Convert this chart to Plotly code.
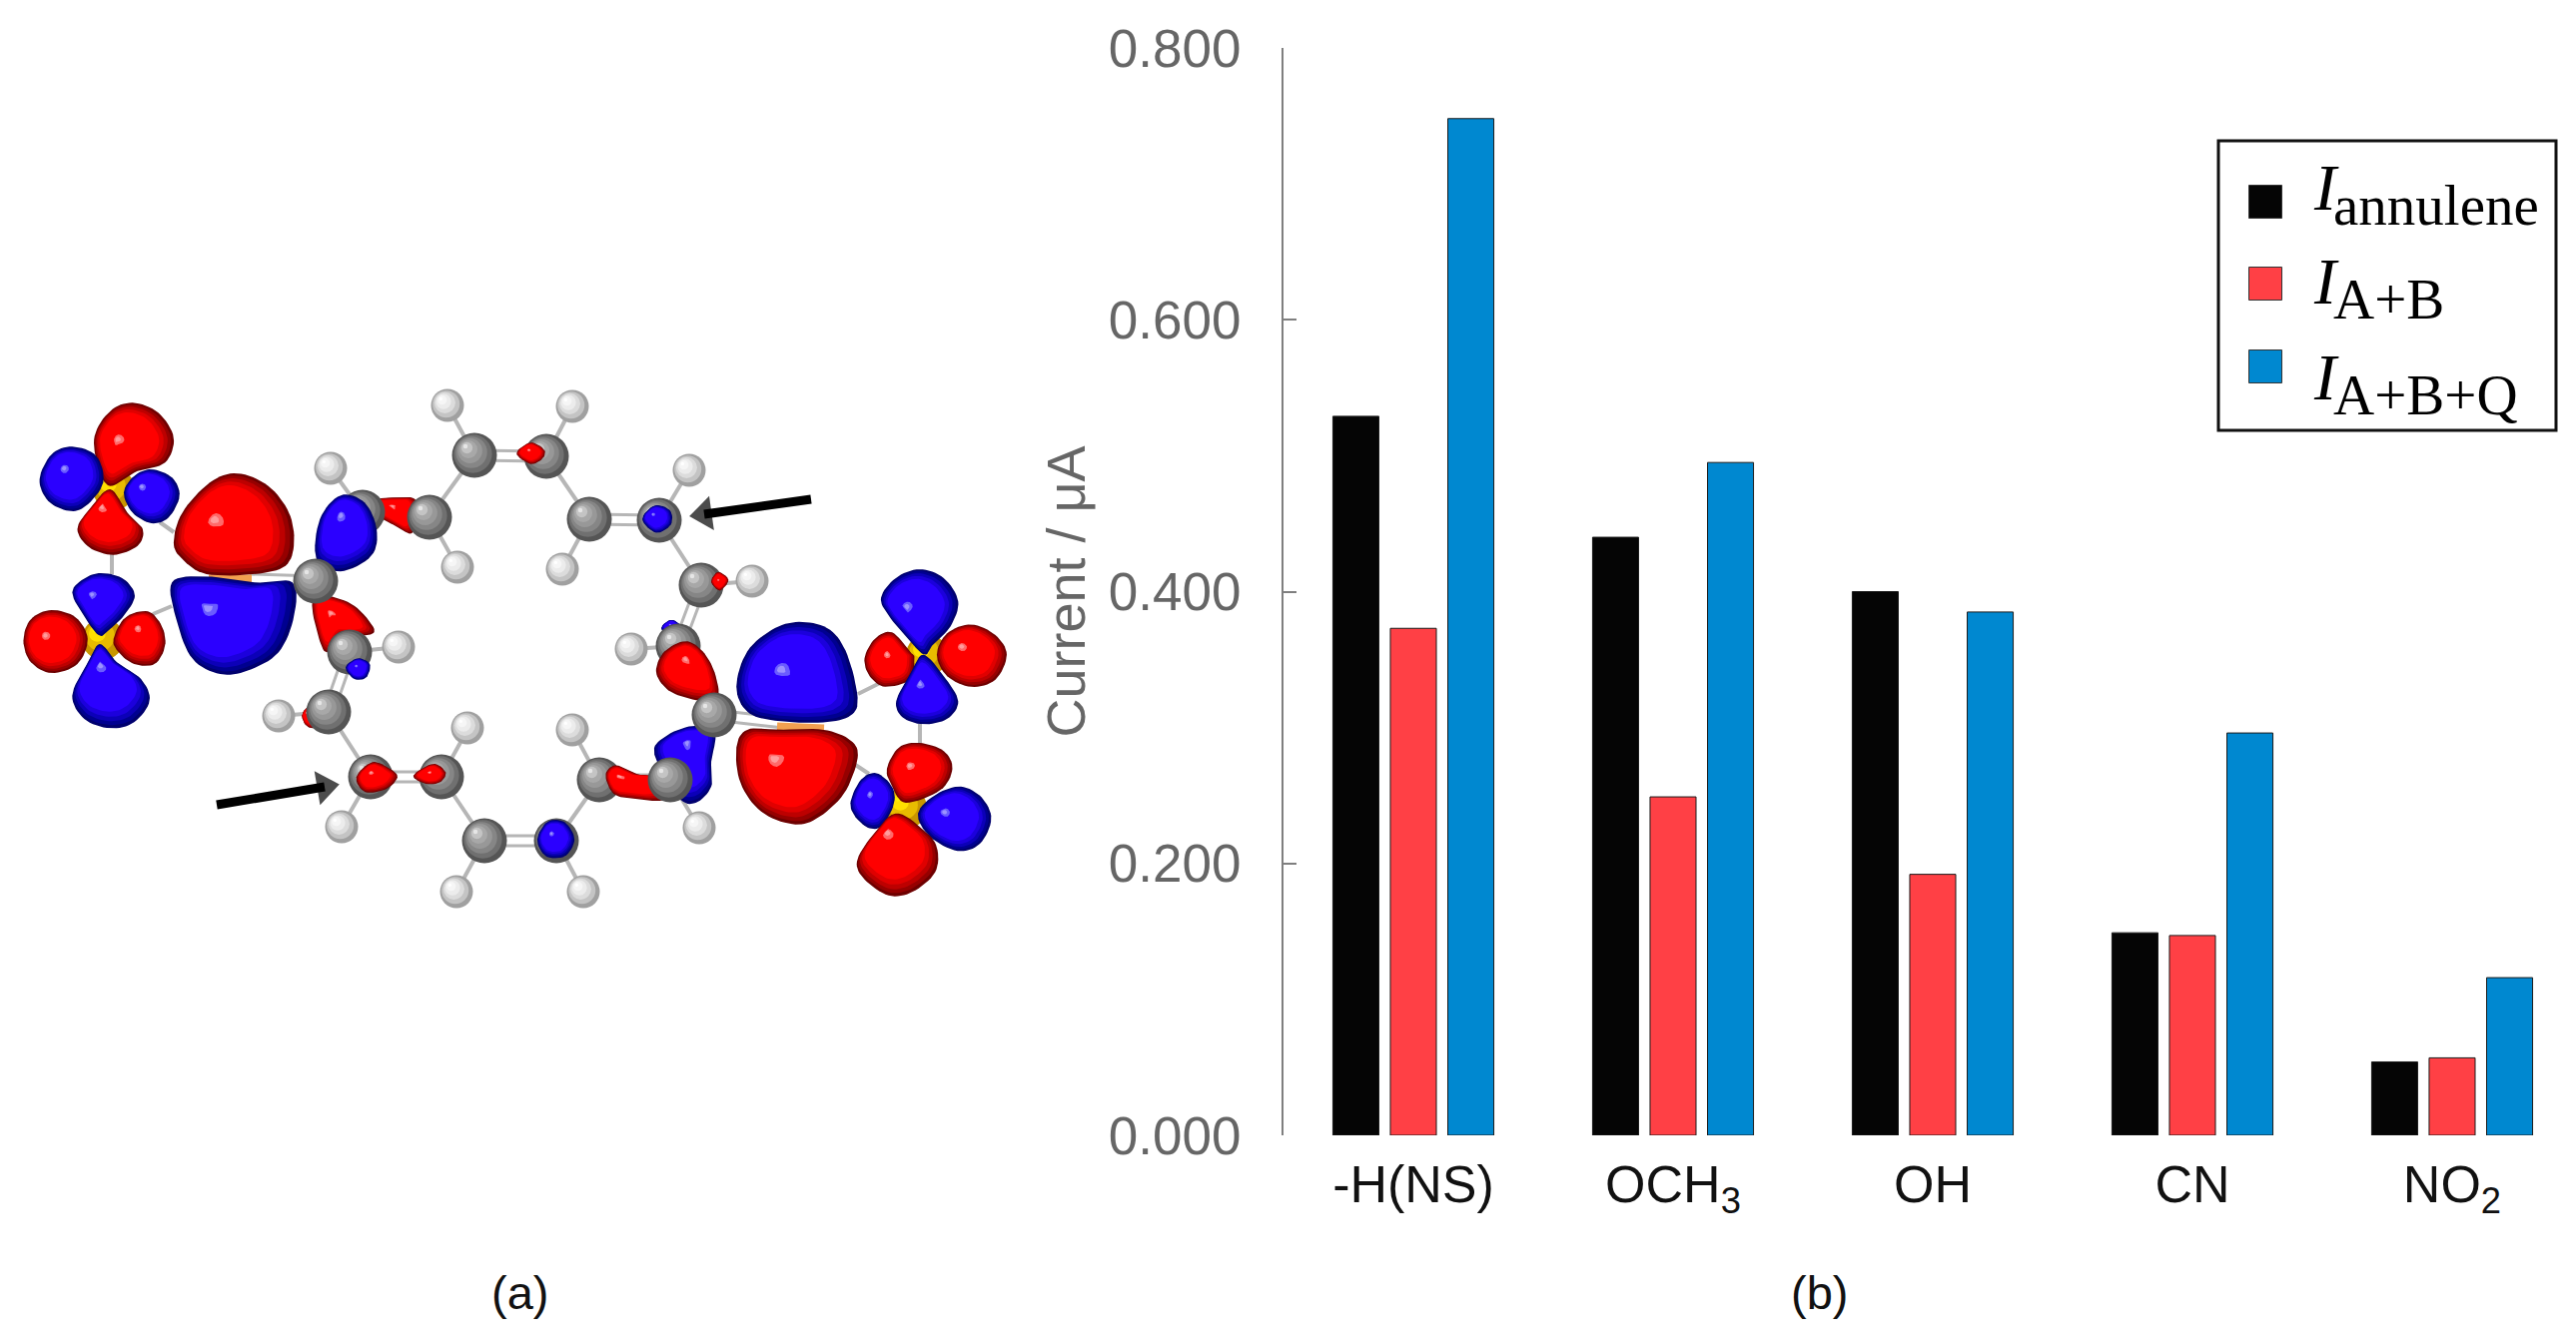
import numpy as np
import plotly.graph_objects as go

# bar chart values
categories = ["-H(NS)", "OCH<sub>3</sub>", "OH", "CN", "NO<sub>2</sub>"]
i_annulene = [0.529, 0.440, 0.400, 0.149, 0.054]
i_ab = [0.373, 0.249, 0.192, 0.147, 0.057]
i_abq = [0.748, 0.495, 0.385, 0.296, 0.116]
y_ticks = [0.0, 0.2, 0.4, 0.6, 0.8]
series_colors = ["#050505", "#ff4045", "#0088d0"]

W, H = 2579, 1344
PAGE = 8  # the browser keeps an 8px body margin, figure starts after it

# panel (a) is a picture of a molecule, traced in page pixels on a hidden axis
carbon_back = [(475, 456), (547, 457), (430, 518), (363, 513), (329, 713), (371, 778), (442, 778),
               (485, 842), (557, 842), (600, 781), (590, 520), (660, 521), (702, 586), (679, 647)]
carbon_front = [(316, 582), (350, 653), (715, 716), (671, 781)]
hydrogen = [(448, 406), (331, 469), (458, 568), (399, 648), (279, 717), (468, 729), (342, 828), (457, 893),
            (584, 893), (573, 407), (690, 471), (563, 570), (753, 582), (632, 650), (573, 731), (700, 829)]
sulfur = [(114, 490), (103, 640), (928, 656), (907, 809)]

single_bonds = [((475, 456), (430, 518)), ((475, 456), (448, 406)), ((547, 457), (573, 407)),
                ((547, 457), (590, 520)), ((430, 518), (458, 568)), ((363, 513), (331, 469)),
                ((363, 513), (316, 582)), ((316, 582), (350, 653)), ((350, 653), (399, 648)),
                ((329, 713), (279, 717)), ((329, 713), (371, 778)), ((371, 778), (342, 828)),
                ((442, 778), (469, 729)), ((442, 778), (485, 842)), ((485, 842), (457, 893)),
                ((557, 842), (584, 893)), ((557, 842), (600, 781)), ((600, 781), (573, 731)),
                ((671, 781), (700, 829)), ((671, 781), (715, 716)), ((715, 716), (679, 647)),
                ((679, 647), (632, 650)), ((702, 586), (753, 582)), ((702, 586), (660, 521)),
                ((660, 521), (690, 471)), ((590, 520), (563, 570)),
                ((112, 555), (112, 575)), ((160, 523), (174, 533)), ((153, 615), (172, 607)),
                ((859, 695), (881, 684)), ((921, 725), (921, 745)), ((852, 763), (870, 775))]
double_bonds = [((350, 653), (329, 713)), ((371, 778), (442, 778)), ((485, 842), (557, 842)),
                ((679, 647), (702, 586)), ((660, 521), (590, 520)), ((475, 456), (547, 457)),
                ((430, 518), (363, 513)), ((316, 582), (250, 580)), ((715, 716), (785, 724)),
                ((600, 781), (671, 781))]
orange_bars = [((209, 580), (252, 580)), ((778, 728), (825, 730))]
arrows = [((217, 806), (325, 788)), ((812, 500), (705, 515))]

# lobes: outline points, then highlight point, in the coordinates of the crops
lobes_z3_back = [
    ("red", [(1075, 395), (1150, 385), (1210, 395), (1200, 490), (1150, 470), (1100, 440)], (1140, 410)),
    ("red", [(878, 1040), (895, 1015), (920, 1030), (915, 1075), (890, 1070)], (890, 1030)),
]
lobes_z3 = [
    ("red", [(505, 520), (530, 430), (610, 340), (690, 312), (780, 350), (840, 430), (855, 520), (830, 590), (740, 615), (600, 615), (530, 570)], (620, 450)),
    ("blue", [(500, 640), (600, 622), (740, 640), (850, 640), (855, 740), (810, 850), (720, 905), (640, 915), (560, 870), (515, 760)], (600, 715)),
    ("red", [(275, 200), (320, 125), (385, 100), (460, 130), (505, 205), (480, 280), (400, 305), (320, 350), (285, 290)], (340, 210)),
    ("red", [(225, 480), (260, 420), (320, 360), (370, 430), (415, 480), (400, 530), (330, 557), (260, 535)], (295, 410)),
    ("blue", [(115, 330), (150, 255), (210, 232), (280, 260), (300, 340), (250, 410), (200, 425), (140, 395)], (185, 295)),
    ("blue", [(360, 370), (390, 320), (440, 300), (500, 325), (522, 380), (490, 445), (440, 462), (385, 430)], (410, 350)),
    ("blue", [(210, 670), (250, 625), (300, 612), (360, 630), (392, 680), (360, 740), (320, 780), (290, 800), (250, 750)], (265, 675)),
    ("red", [(68, 815), (90, 750), (150, 723), (220, 745), (255, 810), (225, 885), (150, 912), (90, 880)], (130, 798)),
    ("red", [(330, 810), (365, 745), (430, 727), (470, 770), (480, 830), (450, 885), (390, 885), (345, 850)], (400, 775)),
    ("blue", [(210, 980), (250, 890), (290, 825), (340, 880), (410, 930), (435, 995), (390, 1060), (320, 1078), (245, 1050)], (290, 885)),
    ("blue", [(920, 570), (930, 450), (990, 378), (1060, 400), (1095, 480), (1080, 560), (990, 607)], (990, 435)),
    ("red", [(908, 700), (950, 680), (1030, 710), (1088, 780), (1060, 800), (990, 800), (950, 850), (925, 800)], (960, 730)),
]
lobes_z3_top = [
    ("blue", [(1005, 895), (1040, 868), (1075, 885), (1065, 925), (1030, 930)], (1035, 890)),
]
lobes_z4_back = [
    ("blue", [(470, 725), (500, 702), (530, 725), (500, 750)], (495, 715)),
]
lobes_z4 = [
    ("blue", [(688, 890), (720, 790), (800, 725), (880, 708), (960, 730), (1010, 800), (1040, 920), (1020, 970), (940, 990), (800, 985), (720, 960)], (815, 840)),
    ("red", [(688, 1060), (720, 1010), (810, 1010), (940, 1010), (1020, 1040), (1040, 1090), (1000, 1190), (920, 1260), (850, 1275), (760, 1240), (700, 1160)], (795, 1090)),
    ("blue", [(1108, 640), (1150, 585), (1220, 560), (1290, 585), (1332, 650), (1310, 720), (1260, 770), (1235, 800), (1190, 760), (1130, 690)], (1180, 665)),
    ("red", [(1060, 810), (1090, 755), (1140, 737), (1190, 790), (1205, 810), (1190, 870), (1120, 890), (1075, 860)], (1125, 798)),
    ("red", [(1270, 800), (1300, 740), (1370, 715), (1440, 745), (1473, 800), (1440, 870), (1370, 890), (1300, 860)], (1340, 775)),
    ("blue", [(1152, 930), (1190, 860), (1230, 800), (1290, 860), (1332, 930), (1300, 980), (1230, 995), (1170, 975)], (1220, 880)),
    ("red", [(1125, 1120), (1160, 1060), (1220, 1047), (1290, 1070), (1315, 1120), (1280, 1180), (1180, 1215), (1140, 1170)], (1190, 1110)),
    ("blue", [(1020, 1210), (1050, 1150), (1095, 1132), (1140, 1170), (1145, 1220), (1110, 1280), (1070, 1285), (1030, 1250)], (1075, 1190)),
    ("blue", [(1215, 1245), (1270, 1190), (1340, 1170), (1400, 1200), (1428, 1260), (1395, 1330), (1330, 1350), (1250, 1310)], (1290, 1240)),
    ("red", [(1038, 1380), (1080, 1310), (1150, 1245), (1230, 1290), (1270, 1340), (1265, 1410), (1200, 1465), (1130, 1475), (1060, 1430)], (1125, 1295)),
    ("red", [(455, 840), (480, 790), (540, 762), (590, 790), (625, 850), (635, 920), (590, 930), (510, 910), (470, 880)], (540, 810)),
    ("blue", [(450, 1080), (480, 1030), (560, 1000), (625, 1020), (615, 1100), (615, 1170), (570, 1215), (520, 1200)], (545, 1045)),
    ("red", [(310, 1130), (340, 1110), (400, 1135), (480, 1145), (480, 1205), (400, 1205), (340, 1195), (315, 1165)], (345, 1140)),
    ("red", [(50, 235), (90, 205), (130, 225), (125, 250), (90, 265)], (85, 225)),
    ("red", [(615, 595), (635, 568), (665, 590), (640, 620)], (635, 590)),
    ("blue", [(415, 420), (450, 382), (495, 395), (498, 435), (455, 458)], (445, 405)),
    ("blue", [(110, 1318), (140, 1268), (190, 1270), (218, 1318), (190, 1365), (135, 1365)], (150, 1300)),
]
lobes_z5 = [
    ("red", [(495, 535), (540, 490), (590, 510), (610, 535), (580, 570), (520, 580)], (535, 520)),
    ("red", [(655, 530), (710, 495), (745, 520), (730, 550), (690, 555)], (700, 520)),
]


def z3(p):
    return (p[0] / 2.904, 370 + p[1] / 3)


def z4(p):
    return (500 + p[0] / 2.9, 370 + p[1] / 2.8)


def z5(p):
    return (180 + p[0] / 2.8, 600 + p[1] / 3)


def smooth(pts):
    '''closed Catmull-Rom outline through the traced points'''
    pts = np.array(pts, dtype=float)
    out = []
    n = len(pts)
    for i in range(n):
        p0, p1, p2, p3 = pts[i - 1], pts[i], pts[(i + 1) % n], pts[(i + 2) % n]
        for t in np.linspace(0, 1, 8, endpoint=False):
            out.append(0.5 * (2 * p1 + (p2 - p0) * t + (2 * p0 - 5 * p1 + 4 * p2 - p3) * t ** 2
                              + (3 * p1 - p0 - 3 * p2 + p3) * t ** 3))
    out.append(out[0])
    return np.array(out)


LOBE_SHADES = {
    "red": ["#6e0000", "#960000", "#bd0000", "#e00000", "#ff0000", "#ff6a6a", "#ff9c9c"],
    "blue": ["#00006e", "#000090", "#0c00b8", "#1c00dc", "#2b00ff", "#6a5cff", "#9c92ff"],
}
LOBE_SCALES = [1.0, 0.95, 0.89, 0.82, 0.74, 0.13, 0.07]

fig = go.Figure()


def add_lobes(items, conv):
    for kind, pts, hl in items:
        outline = smooth([conv(p) for p in pts])
        hl = np.array(conv(hl))
        for scale, col in zip(LOBE_SCALES, LOBE_SHADES[kind]):
            poly = hl + (outline - hl) * scale
            fig.add_scatter(x=poly[:, 0], y=poly[:, 1], xaxis="x2", yaxis="y2", mode="lines",
                            line=dict(width=0, color=col), fill="toself", fillcolor=col,
                            hoverinfo="skip", showlegend=False)


def add_spheres(atoms, diameter, shades):
    xs = np.array([a[0] for a in atoms], dtype=float)
    ys = np.array([a[1] for a in atoms], dtype=float)
    n = len(shades)
    for k, col in enumerate(shades):
        t = k / (n - 1)
        fig.add_scatter(x=xs - 0.2 * diameter * t, y=ys - 0.2 * diameter * t, xaxis="x2", yaxis="y2",
                        mode="markers", marker=dict(size=diameter * (1 - 0.9 * t), color=col, line=dict(width=0)),
                        hoverinfo="skip", showlegend=False)


def add_segment(a, b, width, color):
    fig.add_scatter(x=[a[0], b[0]], y=[a[1], b[1]], xaxis="x2", yaxis="y2", mode="lines",
                    line=dict(width=width, color=color), hoverinfo="skip", showlegend=False)


CARBON = ["#555555", "#707070", "#868686", "#989898", "#a8a8a8", "#c4c4c4", "#e6e6e6"]
HYDROGEN = ["#a0a0a0", "#c4c4c4", "#dcdcdc", "#ececec", "#f6f6f6", "#ffffff"]
YELLOW = ["#c89600", "#e8bc00", "#ffe000", "#fff000"]

for a, b in single_bonds:
    add_segment(a, b, 4, "#b6b6b6")
for a, b in double_bonds:
    d = np.array(b, dtype=float) - np.array(a, dtype=float)
    off = np.array([-d[1], d[0]]) / np.hypot(*d) * 5
    add_segment(a + off, b + off, 3, "#b6b6b6")
    add_segment(a - off, b - off, 3, "#b6b6b6")

add_spheres(sulfur, 42, YELLOW)
add_lobes(lobes_z3_back, z3)
add_lobes(lobes_z4_back, z4)
add_spheres(carbon_back, 45, CARBON)
add_spheres(hydrogen, 33, HYDROGEN)
for a, b in orange_bars:
    add_segment(a, b, 9, "#f2a050")
add_lobes(lobes_z3, z3)
add_lobes(lobes_z4, z4)
add_lobes(lobes_z5, z5)
add_spheres(carbon_front, 45, CARBON)
add_lobes(lobes_z3_top, z3)

for tail, tip in arrows:
    fig.add_scatter(x=[tail[0], tip[0]], y=[tail[1], tip[1]], xaxis="x2", yaxis="y2", mode="lines+markers",
                    line=dict(width=9, color="black"),
                    marker=dict(symbol="triangle-up", size=[0, 30], color="black", angleref="previous",
                                line=dict(width=0)),
                    hoverinfo="skip", showlegend=False)

# bars
for name, vals, col in zip(["annulene", "A+B", "A+B+Q"], [i_annulene, i_ab, i_abq], series_colors):
    fig.add_bar(x=categories, y=vals, name=name, marker=dict(color=col, line=dict(color="#1a1a1a", width=1)),
                showlegend=False)

# legend drawn by hand, plotly swatches cannot be made this big
legend_y = [202, 284, 367]
legend_text_y = [187, 281, 377]
legend_sub = ["annulene", "A+B", "A+B+Q"]
fig.add_scatter(x=[2268] * 3, y=legend_y, xaxis="x2", yaxis="y2", mode="markers",
                marker=dict(symbol="square", size=33, color=series_colors, line=dict(color="#333333", width=1)),
                hoverinfo="skip", showlegend=False)

notes = []
for y, sub in zip(legend_text_y, legend_sub):
    notes.append(dict(x=2314, y=y, xref="x2", yref="y2", text="<i>I</i>", showarrow=False, xanchor="left",
                      yanchor="middle", font=dict(family="Liberation Serif", size=66, color="black")))
    notes.append(dict(x=2334, y=y + 18, xref="x2", yref="y2", text=sub, showarrow=False, xanchor="left",
                      yanchor="middle", font=dict(family="Liberation Serif", size=57, color="black")))
for x, txt in [(520, "(a)"), (1821, "(b)")]:
    notes.append(dict(x=x, y=1294, xref="x2", yref="y2", text=txt, showarrow=False,
                      font=dict(family="Liberation Sans", size=47, color="#111111")))

fig_w, fig_h = W - PAGE, H - PAGE
fig.update_layout(
    width=fig_w, height=fig_h, margin=dict(l=0, r=0, t=0, b=0), autosize=False,
    paper_bgcolor="white", plot_bgcolor="rgba(0,0,0,0)", showlegend=False,
    barmode="group", bargap=0.336, bargroupgap=0.2,
    font=dict(family="Liberation Sans"),
    xaxis=dict(domain=[(1285 - PAGE) / fig_w, 1], range=[-0.5, 4.477], anchor="y", showgrid=False, showline=False,
               ticks="", zeroline=False, tickfont=dict(size=52, color="#111111"), automargin=False,
               ticklabelstandoff=14),
    yaxis=dict(domain=[1 - (1137 - PAGE) / fig_h, 1 - (48 - PAGE) / fig_h], range=[0, 0.8], anchor="x",
               tickvals=y_ticks, tickformat=".3f",
               showgrid=False, zeroline=False, showline=True, linecolor="#7f7f7f", linewidth=2,
               ticks="inside", ticklen=13, tickwidth=2, tickcolor="#7f7f7f",
               tickfont=dict(size=53, color="#666666"), automargin=False, ticklabelstandoff=30,
               title=dict(text="Current / μA", font=dict(size=54, color="#666666"), standoff=6)),
    xaxis2=dict(domain=[0, 1], range=[PAGE, W], anchor="y2", visible=False, type="linear"),
    yaxis2=dict(domain=[0, 1], range=[H, PAGE], anchor="x2", visible=False, type="linear"),
    annotations=notes,
    shapes=[dict(type="rect", xref="x2", yref="y2", x0=2221, x1=2559, y0=141, y1=431,
                 line=dict(color="#111111", width=3), fillcolor="rgba(0,0,0,0)")],
)

fig.write_html("out.html")
